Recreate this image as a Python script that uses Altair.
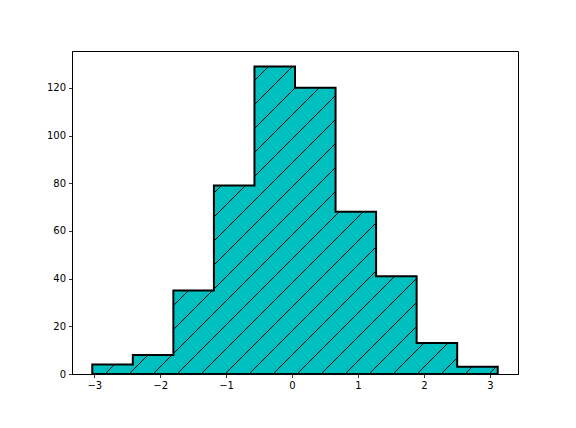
import altair as alt
import pandas as pd

# Histogram data
bin_edges = [-3.03, -2.415, -1.80, -1.185, -0.57, 0.045, 0.66, 1.275, 1.89, 2.505, 3.12]
counts = [4, 8, 35, 79, 129, 120, 68, 41, 13, 3]
x_ticks = [-3, -2, -1, 0, 1, 2, 3]
y_ticks = [0, 20, 40, 60, 80, 100, 120]

# layout / style
PLOT_W, PLOT_H = 446, 323
PAD_L, PAD_T = 64, 43
FILL = "#00bfbf"
HATCH_STEP = 24.0      # horizontal spacing of the '/' hatch lines, px
HATCH_ANCHOR = 767.0   # px+py of one hatch line (page coords)
HATCH_W = 1.5

span = bin_edges[-1] - bin_edges[0]
x_dom = [bin_edges[0] - 0.05 * span, bin_edges[-1] + 0.05 * span]
y_dom = [0, max(counts) * 1.05]

df = pd.DataFrame({
    "x": bin_edges,
    "y": counts + [counts[-1]],
})

# bbox of the area in page pixels -> diagonal stripe gradient
X0 = 8 + PAD_L + (bin_edges[0] - x_dom[0]) / (x_dom[1] - x_dom[0]) * PLOT_W
X1 = 8 + PAD_L + (bin_edges[-1] - x_dom[0]) / (x_dom[1] - x_dom[0]) * PLOT_W
Y0 = 8 + PAD_T + (1 - max(counts) / y_dom[1]) * PLOT_H
Y1 = 8 + PAD_T + PLOT_H
W, H = X1 - X0, Y1 - Y0
total = W + H
s = (W + H) / (W * W + H * H)
gx, gy = s * W, s * H

phase = (HATCH_ANCHOR - X0 - Y0) % HATCH_STEP
stops = [alt.GradientStop(offset=0, color=FILL)]
d = phase
while d < total:
    a = max(d - HATCH_W / 2, 0) / total
    b = min(d + HATCH_W / 2, total) / total
    stops += [
        alt.GradientStop(offset=a, color=FILL),
        alt.GradientStop(offset=a, color="black"),
        alt.GradientStop(offset=b, color="black"),
        alt.GradientStop(offset=b, color=FILL),
    ]
    d += HATCH_STEP
stops.append(alt.GradientStop(offset=1, color=FILL))

grad = alt.LinearGradient(gradient="linear", stops=stops, x1=0, y1=0, x2=gx, y2=gy)

chart = alt.Chart(df).mark_area(
    interpolate="step-after",
    color=grad,
    stroke="black",
    strokeWidth=2,
    strokeJoin="miter",
    clip=True,
    fillOpacity=1,
).encode(
    x=alt.X("x:Q", scale=alt.Scale(domain=x_dom, nice=False, zero=False),
            axis=alt.Axis(values=x_ticks, title=None, format="d")),
    y=alt.Y("y:Q", scale=alt.Scale(domain=y_dom, nice=False, zero=False),
            axis=alt.Axis(values=y_ticks, title=None, format="d")),
).properties(
    width=PLOT_W,
    height=PLOT_H,
    autosize=alt.AutoSizeParams(type="none"),
    padding={"left": PAD_L, "top": PAD_T, "right": 40, "bottom": 40},
    background="white",
).configure_view(
    stroke="black", strokeWidth=1
).configure_axis(
    grid=False,
    domainColor="black",
    domainWidth=1,
    tickColor="black",
    tickSize=3.5,
    tickWidth=0.8,
    labelFont="DejaVu Sans",
    labelFontSize=10,
    labelColor="black",
    labelPadding=3,
)

chart.save("out.html", embed_options={"renderer": "svg", "actions": False})
